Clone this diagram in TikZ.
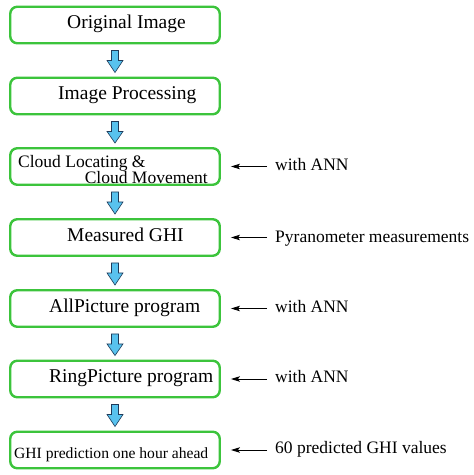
\documentclass[tikz,border=0pt]{standalone}
\usepackage{fontspec}
\setmainfont{Liberation Serif}
\usetikzlibrary{arrows.meta,calc}
\definecolor{boxgreen}{HTML}{3CC43C}
\definecolor{arrblue}{HTML}{58C2EE}
\definecolor{arrline}{HTML}{1E3A5A}
\tikzset{
  box/.style={draw=boxgreen, line width=2.4pt, rounded corners=7pt, minimum width=209.5pt, minimum height=36.5pt, inner sep=0pt},
  boxtext/.style={inner sep=0pt, font=\fontsize{19.5}{21}\selectfont},
  sidetext/.style={inner sep=0pt, anchor=base west, font=\fontsize{17.5}{19}\selectfont},
  sidear/.style={draw=black, line width=0.9pt, -{Stealth[length=9pt,width=5.5pt,inset=2pt]}},
  blockar/.style={fill=arrblue, draw=arrline, line width=0.6pt, line join=miter},
}
\newcommand\blockarrow[2]{%
  \path let \p1=(#1.south), \p2=(#2.north) in
    [blockar] (\x1-3.5pt,\y1-6pt) -- (\x1+3.5pt,\y1-6pt) -- (\x1+3.5pt,\y1-16pt)
    -- (\x1+8pt,\y1-16pt) -- (\x1,\y2+4pt) -- (\x1-8pt,\y1-16pt) -- (\x1-3.5pt,\y1-16pt) -- cycle;}
\begin{document}
\begin{tikzpicture}[x=1pt,y=-1pt]
\useasboundingbox (0,0) rectangle (474,475);
% boxes
\node[box] (b1) at (115,25) {};
\node[box] (b2) at (115,96) {};
\node[box] (b3) at (115,166.5) {};
\node[box] (b4) at (115,237.5) {};
\node[box] (b5) at (115,308.5) {};
\node[box] (b6) at (115,379) {};
\node[box] (b7) at (115,450) {};
% box texts
\node[boxtext, anchor=base west] (t1) at (67,28.5) {Original Image};
\node[boxtext, anchor=base west] (t2) at (58,99.5) {Image Processing};
\node[inner sep=0pt, anchor=base west, font=\fontsize{17.5}{19}\selectfont] (t3a) at (18,167) {Cloud Locating \&};
\node[inner sep=0pt, anchor=base east, font=\fontsize{17.5}{19}\selectfont] (t3b) at (208,183) {Cloud Movement};
\node[boxtext, anchor=base west] (t4) at (67,241) {Measured GHI};
\node[boxtext, anchor=base west] (t5) at (49,312) {AllPicture program};
\node[boxtext, anchor=base west] (t6) at (49,382.5) {RingPicture program};
\node[inner sep=0pt, anchor=base west, font=\fontsize{15.6}{17}\selectfont] (t7) at (14,458) {GHI prediction one hour ahead};
% block arrows
\blockarrow{b1}{b2}
\blockarrow{b2}{b3}
\blockarrow{b3}{b4}
\blockarrow{b4}{b5}
\blockarrow{b5}{b6}
\blockarrow{b6}{b7}
% side labels
\node[sidetext] (l3) at (275,170) {with ANN};
\node[sidetext] (l4) at (275,242) {Pyranometer measurements};
\node[sidetext] (l5) at (275,312) {with ANN};
\node[sidetext] (l6) at (275,382.5) {with ANN};
\node[sidetext] (l7) at (275,453) {60 predicted GHI values};
\foreach \i in {3,4,5,6,7}{
  \draw[sidear] ([xshift=-8pt]l\i.west |- b\i.east) -- ([xshift=10pt]b\i.east);
}
\end{tikzpicture}
\end{document}
